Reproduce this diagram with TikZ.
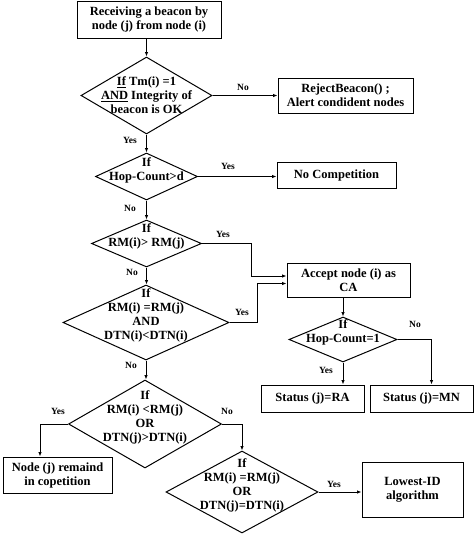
\documentclass[tikz,border=0pt]{standalone}
\usepackage{fontspec}
\setmainfont{Liberation Serif}
\usetikzlibrary{shapes.geometric, arrows.meta}

\begin{document}
\begin{tikzpicture}[x=1pt, y=-1pt, line width=0.9pt]
\tikzstyle{block}=[rectangle, draw=black, line width=1pt, align=center, inner sep=0pt, font=\fontsize{12.5}{14}\selectfont\bfseries]
\tikzstyle{decision}=[diamond, draw=black, line width=1pt, inner sep=0pt]
\tikzstyle{dtext}=[align=center, inner sep=0pt, font=\fontsize{12.5}{14}\selectfont\bfseries]
\tikzstyle{answer}=[inner sep=0pt, font=\fontsize{9.5}{11}\selectfont\bfseries]
\tikzstyle{flow}=[-{Latex[length=4.5pt, width=3.5pt]}, black]

\useasboundingbox (0,0) rectangle (474,536);

% Draw the boxes and the tests
\node[block, minimum width=144, minimum height=37] (recv) at (149,19.5) {Receiving a beacon by\\node (j) from node (i)};
\node[decision, minimum width=131, minimum height=77, label={[dtext]center:{\underline{If} Tm(i) =1\\\underline{AND} Integrity of\\beacon is OK}}] (tm) at (146.5,95.5) {};
\node[block, minimum width=135, minimum height=35] (reject) at (345.5,95.5) {RejectBeacon() ;\\Alert condident nodes};
\node[decision, minimum width=102, minimum height=47, label={[dtext, yshift=6pt]center:{If\\Hop-Count>d}}] (hop) at (146.5,176.5) {};
\node[block, minimum width=119, minimum height=26] (nocomp) at (336.5,175) {No Competition};
\node[decision, minimum width=110, minimum height=47, label={[dtext, yshift=7pt]center:{If\\RM(i)> RM(j)}}] (rmgt) at (146.5,243.5) {};
\node[block, minimum width=123, minimum height=34] (accept) at (348.5,280) {Accept node (i) as\\CA};
\node[decision, minimum width=166, minimum height=75, label={[dtext, yshift=7pt]center:{If\\RM(i) =RM(j)\\AND\\DTN(i)<DTN(i)}}] (rmeq) at (146,322.5) {};
\node[decision, minimum width=108, minimum height=45, label={[dtext, yshift=7pt]center:{If\\Hop-Count=1}}] (hopone) at (343,339.5) {};
\node[block, minimum width=103, minimum height=27] (ra) at (312.5,398.5) {Status (j)=RA};
\node[block, minimum width=103, minimum height=27] (mn) at (421.5,398.5) {Status (j)=MN};
\node[decision, minimum width=153, minimum height=88, label={[dtext, yshift=7pt]center:{If\\RM(i) <RM(j)\\OR\\DTN(j)>DTN(i)}}] (rmlt) at (145,424) {};
\node[block, minimum width=109, minimum height=36] (remain) at (57.5,475) {Node (j) remaind\\in copetition};
\node[decision, minimum width=152, minimum height=82, label={[dtext, yshift=7pt]center:{If\\RM(i) =RM(j)\\OR\\DTN(j)=DTN(i)}}] (tie) at (242,492) {};
\node[block, minimum width=101, minimum height=55] (lowest) at (412.5,489.5) {Lowest-ID\\algorithm};

% Draw the flow
\draw[flow] (recv.south -| tm.north) -- (tm.north);
\draw[flow] (tm.east) -- (tm.east -| reject.west);
\draw[flow] (tm.south) -- (hop.north);
\draw[flow] (hop.east) -- (hop.east -| nocomp.west);
\draw[flow] (hop.south) -- (rmgt.north);
\draw[flow] (rmgt.east) -- ++(49,0) |- ([yshift=4pt]accept.west);
\draw[flow] (rmgt.south) -- (rmgt.south |- rmeq.north);
\draw[flow] (rmeq.east) -- ++(28,0) |- ([yshift=-3.5pt]accept.west);
\draw[flow] (accept.south -| hopone.north) -- (hopone.north);
\draw[flow] (hopone.east) -| ([xshift=10pt]mn.north);
\draw[flow] (hopone.south) -- (hopone.south |- ra.north);
\draw[flow] (rmeq.south) -- (rmeq.south |- rmlt.north);
\draw[flow] (rmlt.west) -| ([xshift=-17.5pt]remain.north);
\draw[flow] (rmlt.east) -| (tie.north);
\draw[flow] (tie.east) -- (tie.east -| lowest.west);

% Yes / No answers
\foreach \name/\x/\y/\txt in {notm/243/87/No, yestm/130/140/Yes, yeshop/228/166/Yes, nohop/130/208/No,
    yesrmgt/223/234/Yes, normgt/132/272/No, yesrmeq/242/312/Yes, normeq/131/365/No,
    nohopone/415/324/No, yeshopone/326/370/Yes, yesrmlt/58/411/Yes, normlt/227/411/No, yestie/334/484/Yes}
    \node[answer] (\name) at (\x,\y) {\txt};

\end{tikzpicture}
\end{document}
